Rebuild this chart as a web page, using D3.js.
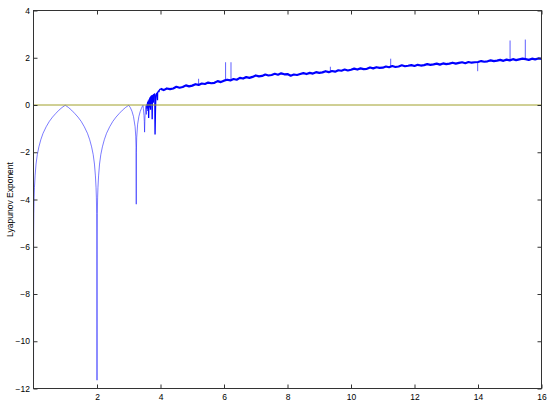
<html>

<head>
  <meta charset="utf-8">
  <title>Lyapunov Exponent</title>
  <script src="https://d3js.org/d3.v7.min.js"></script>
  <style>
    body {
      margin: 0;
      background: #fff;
    }

    .axis text {
      font-family: 'Liberation Sans', Arial, sans-serif;
      font-size: 8.5px;
      fill: #000;
    }

    .axis line {
      stroke: #333;
    }

    .axis .domain {
      stroke: none;
    }

    .axis-label {
      font-family: 'Liberation Sans', Arial, sans-serif;
      font-size: 8.5px;
      text-anchor: middle;
    }
  </style>
</head>

<body>
  <svg id="lyapChart" width="550" height="406"></svg>

  <script>
    // periodic part of the curve, r from 0 to the onset of chaos  [r, lambda]
    const periodicPts = [
      [0.001, -11.6], [0.004, -5.5], [0.01, -4.6], [0.02, -3.9], [0.03, -3.5], [0.05, -3.0], [0.08, -2.5],
      [0.12, -2.1], [0.17, -1.77], [0.23, -1.47], [0.3, -1.2], [0.4, -0.92], [0.5, -0.69], [0.6, -0.51],
      [0.7, -0.36], [0.8, -0.22], [0.9, -0.105], [1.0, -0.01],
      [1.1, -0.105], [1.2, -0.22], [1.3, -0.36], [1.4, -0.51], [1.5, -0.69], [1.6, -0.92], [1.7, -1.2],
      [1.77, -1.47], [1.83, -1.77], [1.88, -2.1], [1.92, -2.5], [1.95, -3.0], [1.97, -3.5], [1.98, -3.9],
      [1.99, -4.6], [1.996, -5.5], [2.0, -11.65], [2.004, -5.5], [2.01, -4.6], [2.02, -3.9], [2.03, -3.5],
      [2.05, -3.0], [2.08, -2.5], [2.12, -2.1], [2.17, -1.77], [2.23, -1.47], [2.3, -1.2], [2.4, -0.92],
      [2.5, -0.69], [2.6, -0.51], [2.7, -0.36], [2.8, -0.22], [2.9, -0.105], [3.0, -0.01],
      [3.05, -0.11], [3.1, -0.26], [3.15, -0.49], [3.2, -0.92], [3.22, -1.32], [3.23, -1.8], [3.236, -4.2],
      [3.24, -2.0], [3.25, -1.39], [3.28, -0.81], [3.32, -0.48], [3.36, -0.28], [3.4, -0.14], [3.43, -0.05],
      [3.449, -0.01], [3.46, -0.15], [3.48, -0.45], [3.49, -0.7], [3.4986, -1.15], [3.51, -0.55],
      [3.525, -0.2], [3.544, -0.02], [3.55, -0.15], [3.5546, -0.4], [3.56, -0.1], [3.564, -0.03],
      [3.568, -0.15], [3.57, 0.0]
    ];

    // chaotic region up to r = 4
    const chaosPts = [
      [3.57, 0.0], [3.58, 0.03], [3.585, -0.15], [3.59, 0.08], [3.6, 0.12], [3.605, -0.25], [3.61, 0.15],
      [3.62, 0.18], [3.627, -0.55], [3.635, 0.15], [3.64, 0.2], [3.65, 0.25], [3.655, -0.1], [3.66, 0.27],
      [3.67, 0.3], [3.68, 0.32], [3.685, -0.2], [3.69, 0.33], [3.7, 0.36], [3.705, 0.05], [3.71, 0.37],
      [3.72, 0.4], [3.73, 0.38], [3.738, -0.6], [3.745, 0.3], [3.75, 0.4], [3.76, 0.42], [3.77, 0.38],
      [3.775, 0.1], [3.78, 0.43], [3.79, 0.45], [3.8, 0.44], [3.81, 0.47], [3.82, 0.48], [3.8284, -1.25],
      [3.84, -0.3], [3.85, 0.2], [3.86, 0.38], [3.87, 0.45], [3.88, 0.5], [3.89, 0.48], [3.9, 0.53],
      [3.905, 0.2], [3.91, 0.52], [3.92, 0.55], [3.93, 0.58], [3.94, 0.6], [3.95, 0.55], [3.96, 0.62],
      [3.97, 0.64], [3.98, 0.66], [3.99, 0.67], [4.0, 0.69]
    ];

    // noisy band beyond r = 4
    const bandPts = [
      [4.0, 0.69], [4.1, 0.63], [4.2, 0.70], [4.3, 0.67], [4.4, 0.70], [4.5, 0.77], [4.6, 0.73], [4.7, 0.76],
      [4.8, 0.83], [4.9, 0.79], [5.0, 0.82], [5.1, 0.88], [5.2, 0.85], [5.3, 0.91], [5.4, 0.89], [5.5, 0.95],
      [5.6, 0.92], [5.7, 0.94], [5.8, 1.01], [5.9, 0.97], [6.0, 1.03], [6.1, 1.07], [6.2, 1.04], [6.3, 1.10],
      [6.4, 1.07], [6.5, 1.15], [6.6, 1.12], [6.7, 1.18], [6.8, 1.15], [6.9, 1.19], [7.0, 1.25], [7.1, 1.21],
      [7.2, 1.23], [7.3, 1.29], [7.4, 1.25], [7.5, 1.27], [7.6, 1.32], [7.7, 1.28], [7.8, 1.34], [7.9, 1.30],
      [8.0, 1.31], [8.1, 1.24], [8.2, 1.29], [8.3, 1.27], [8.4, 1.31], [8.5, 1.35], [8.6, 1.31], [8.7, 1.36],
      [8.8, 1.33], [8.9, 1.39], [9.0, 1.36], [9.1, 1.38], [9.2, 1.43], [9.3, 1.39], [9.4, 1.44], [9.5, 1.41],
      [9.6, 1.47], [9.7, 1.45], [9.8, 1.50], [9.9, 1.46], [10.0, 1.49], [10.1, 1.54], [10.2, 1.50],
      [10.3, 1.55], [10.4, 1.52], [10.5, 1.53], [10.6, 1.59], [10.7, 1.55], [10.8, 1.60], [10.9, 1.57],
      [11.0, 1.58], [11.1, 1.63], [11.2, 1.60], [11.3, 1.65], [11.4, 1.61], [11.5, 1.63], [11.6, 1.68],
      [11.7, 1.64], [11.8, 1.66], [11.9, 1.69], [12.0, 1.65], [12.1, 1.70], [12.2, 1.67], [12.3, 1.69],
      [12.4, 1.73], [12.5, 1.70], [12.6, 1.72], [12.7, 1.75], [12.8, 1.71], [12.9, 1.76], [13.0, 1.73],
      [13.1, 1.75], [13.2, 1.79], [13.3, 1.75], [13.4, 1.78], [13.5, 1.81], [13.6, 1.77], [13.7, 1.82],
      [13.8, 1.79], [13.9, 1.81], [14.0, 1.82], [14.1, 1.86], [14.2, 1.83], [14.3, 1.85], [14.4, 1.89],
      [14.5, 1.86], [14.6, 1.88], [14.7, 1.91], [14.8, 1.87], [14.9, 1.92], [15.0, 1.89], [15.1, 1.94],
      [15.2, 1.90], [15.3, 1.93], [15.4, 1.96], [15.5, 1.94], [15.6, 1.91], [15.7, 1.96], [15.8, 1.93],
      [15.9, 1.97], [16.0, 1.95]
    ];

    // isolated spikes off the band  [r, from, to]
    const spikes = [
      [5.2, 0.87, 1.11], [6.05, 1.03, 1.81], [6.22, 1.05, 1.81], [9.35, 1.41, 1.62],
      [11.25, 1.62, 1.96], [13.99, 1.81, 1.43], [15.01, 1.90, 2.73], [15.49, 1.94, 2.77]
    ];

    const zeroLine = [[0, 0], [16, 0]];

    const xTicks = [2, 4, 6, 8, 10, 12, 14, 16];
    const yTicks = [-12, -10, -8, -6, -4, -2, 0, 2, 4];

    const svg = d3.select("svg#lyapChart");
    const width = +svg.attr("width");
    const height = +svg.attr("height");
    const margin = { top: 10.5, right: 8.5, bottom: 17.5, left: 33.5 };
    const chartWidth = width - margin.left - margin.right;
    const chartHeight = height - margin.top - margin.bottom;

    const xScale = d3.scaleLinear().domain([0, 16]).range([0, chartWidth]);
    const yScale = d3.scaleLinear().domain([-12, 4]).range([chartHeight, 0]);

    let chartArea = svg.append("g").attr("id", "lines")
      .attr("transform", "translate(" + margin.left + "," + margin.top + ")");
    let annotations = svg.append("g").attr("id", "annotations");

    const line = d3.line()
      .x(d => xScale(d[0]))
      .y(d => yScale(d[1]));

    // thin periodic curve
    chartArea.append("path")
      .datum(periodicPts)
      .attr("d", line)
      .attr("fill", "none")
      .attr("stroke", "#0000ff")
      .attr("stroke-opacity", 0.65)
      .attr("stroke-width", 0.8);

    // chaotic part
    chartArea.append("path")
      .datum(chaosPts)
      .attr("d", line)
      .attr("fill", "none")
      .attr("stroke", "#0000ff")
      .attr("stroke-width", 1.3)
      .attr("stroke-linejoin", "bevel");

    // band
    chartArea.append("path")
      .datum(bandPts)
      .attr("d", line)
      .attr("fill", "none")
      .attr("stroke", "#0000ff")
      .attr("stroke-width", 2.2)
      .attr("stroke-linejoin", "round");

    // spikes
    chartArea.selectAll("line.spike")
      .data(spikes)
      .enter()
      .append("line")
      .attr("class", "spike")
      .attr("x1", d => xScale(d[0]))
      .attr("x2", d => xScale(d[0]))
      .attr("y1", d => yScale(d[1]))
      .attr("y2", d => yScale(d[2]))
      .attr("stroke", "#0000ff")
      .attr("stroke-opacity", 0.7)
      .attr("stroke-width", 0.9);

    // zero line on top
    chartArea.append("path")
      .datum(zeroLine)
      .attr("d", line)
      .attr("fill", "none")
      .attr("stroke", "#a0a02a")
      .attr("stroke-width", 1);

    //axis
    annotations.append("g")
      .attr("class", "x axis")
      .attr("transform", "translate(" + margin.left + "," + (margin.top + chartHeight) + ")")
      .call(d3.axisBottom(xScale).tickValues(xTicks).tickSizeInner(-4).tickSizeOuter(0).tickPadding(5));

    annotations.append("g")
      .attr("class", "x axis")
      .attr("transform", "translate(" + margin.left + "," + margin.top + ")")
      .call(d3.axisTop(xScale).tickValues(xTicks).tickSizeInner(-4).tickSizeOuter(0).tickFormat(""));

    annotations.append("g")
      .attr("class", "y axis")
      .attr("transform", "translate(" + margin.left + "," + margin.top + ")")
      .call(d3.axisLeft(yScale).tickValues(yTicks).tickSizeInner(-4).tickSizeOuter(0).tickPadding(3.5));

    annotations.append("g")
      .attr("class", "y axis")
      .attr("transform", "translate(" + (margin.left + chartWidth) + "," + margin.top + ")")
      .call(d3.axisRight(yScale).tickValues(yTicks).tickSizeInner(-4).tickSizeOuter(0).tickFormat(""));

    // box
    annotations.append("rect")
      .attr("x", margin.left)
      .attr("y", margin.top)
      .attr("width", chartWidth)
      .attr("height", chartHeight)
      .attr("fill", "none")
      .attr("stroke", "#333")
      .attr("stroke-width", 1);

    //label
    svg.append("text")
      .attr("class", "y axis-label")
      .attr("transform", "translate(10," + (margin.top + chartHeight / 2) + ") rotate(-90)")
      .attr("dy", "0.35em")
      .text("Lyapunov Exponent");
  </script>
</body>

</html>
